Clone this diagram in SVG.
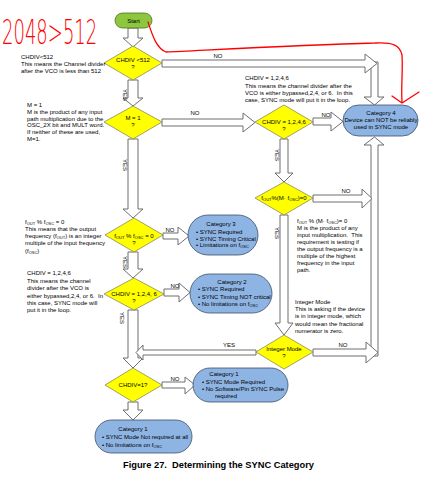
<svg xmlns="http://www.w3.org/2000/svg" width="432" height="480" viewBox="0 0 432 480">
<style>
.blk{fill:#fff;stroke:#6f6f6f;stroke-width:1;stroke-linejoin:miter}
.dia{fill:#ffff00;stroke:#7a7a55;stroke-width:0.7}
.cat{fill:#8eb4e3;stroke:#3f4f66;stroke-width:0.8}
.start{fill:#8dc63f;stroke:#4f6e22;stroke-width:0.8}
text{font-family:"Liberation Sans",Arial,sans-serif;font-size:6px;fill:#000}
.c{text-anchor:middle}
.sub{font-size:4px}
.cap{font-size:9.5px;font-weight:bold}
.red{fill:none;stroke:#ff0000;stroke-width:1.3;stroke-linecap:round;stroke-linejoin:round}
.hand{font-family:"DejaVu Sans",sans-serif;font-size:34px;font-weight:200;fill:#ff0000}
</style>
<rect width="432" height="480" fill="#fff"/>

<g id="connectors">
  <polygon class="blk" points="128,28 138,28 138,38 143,38 133,47 123,38 128,38"/>
  <polygon class="blk" points="371,62 378,62 378,97 384,97 374.5,105 364,97 371,97"/>
  <polygon class="blk" points="162,60 365,60 365,54 377,63.5 365,73 365,67 162,67"/>
  <polygon class="blk" points="128,80 138,80 138,98 143,98 133,106 123,98 128,98"/>
  <polygon class="blk" points="162,119 243,119 243,113 255,122.5 243,132 243,126 162,126"/>
  <polygon class="blk" points="313,118 331,118 331,112 343,121.5 331,131 331,125 313,125"/>
  <polygon class="blk" points="280,139 288,139 288,173 293,173 284,182 275,173 280,173"/>
  <polygon class="blk" points="371,356 378,356 378,145 384,145 374.5,137 364,145 371,145"/>
  <polygon class="blk" points="313,195 362,195 362,189 372,198.5 362,208 362,202 313,202"/>
  <polygon class="blk" points="280,215 288,215 288,323 293,323 284,335 275,323 280,323"/>
  <polygon class="blk" points="313,349 366,349 366,342 378,352.5 366,363 366,356 313,356"/>
  <polygon class="blk" points="128,139 138,139 138,209 143,209 133,218 123,209 128,209"/>
  <polygon class="blk" points="163,233 178,233 178,227 189,236 178,245 178,239 163,239"/>
  <polygon class="blk" points="128,252 138,252 138,269 143,269 133,278 123,269 128,269"/>
  <polygon class="blk" points="164,289 179,289 179,283 190,292.5 179,302 179,296 164,296"/>
  <polygon class="blk" points="128,310 138,310 138,358 143,358 133,368 123,358 128,358"/>
  <polygon class="blk" points="256,350 143,350 143,345 136,352.5 143,360 143,355 256,355"/>
  <polygon class="blk" points="162,382 185,382 185,377 195,385 185,394 185,388 162,388"/>
  <polygon class="blk" points="128,402 138,402 138,410 143,410 133,420 123,410 128,410"/>
  <text class="c" x="218" y="58">NO</text>
  <text class="c" x="195" y="115">NO</text>
  <text class="c" x="326" y="117">NO</text>
  <text class="c" x="346" y="193">NO</text>
  <text class="c" x="343" y="347">NO</text>
  <text class="c" x="229" y="347">YES</text>
  <text class="c" x="170" y="232">NO</text>
  <text class="c" x="175" y="288">NO</text>
  <text class="c" x="175" y="381">NO</text>
  <text class="c" transform="translate(125,95) rotate(90)" dy="2">YES</text>
  <text class="c" transform="translate(125,165) rotate(90)" dy="2">YES</text>
  <text class="c" transform="translate(125,262) rotate(90)" dy="2">YES</text>
  <text class="c" transform="translate(122,318) rotate(90)" dy="2">YES</text>
  <text class="c" transform="translate(277,155) rotate(90)" dy="2">YES</text>
  <text class="c" transform="translate(277,233) rotate(90)" dy="2">YES</text>
</g>

<g id="start">
  <rect class="start" x="115" y="13" width="37" height="15" rx="7.5"/>
  <text class="c" x="133.5" y="22.5">Start</text>
</g>

<g id="d-chdiv512">
  <polygon class="dia" points="104,63 133,46 162,63 133,80"/>
  <text class="c" x="133" y="62">CHDIV &lt;512</text>
  <text class="c" x="133" y="69">?</text>
</g>

<g id="d-m1">
  <polygon class="dia" points="104,122 133,106 162,122 133,139"/>
  <text class="c" x="133" y="120">M = 1</text>
  <text class="c" x="133" y="127">?</text>
</g>

<g id="d-chdiv1246-right">
  <polygon class="dia" points="255,122 284,105 313,122 284,139"/>
  <text class="c" x="284" y="124">CHDIV = 1,2,4,6</text>
  <text class="c" x="284" y="130.5">?</text>
</g>

<g id="d-fout-mfosc">
  <polygon class="dia" points="255,198 284,182 313,198 284,215"/>
  <text class="c" x="284" y="200">f<tspan class="sub" dy="1.2">OUT</tspan><tspan dy="-1.2">%(M· f</tspan><tspan class="sub" dy="1.2">OSC</tspan><tspan dy="-1.2">)=0</tspan></text>
</g>

<g id="d-integer">
  <polygon class="dia" points="256,352 284,335 313,352 284,369"/>
  <text class="c" x="284" y="351">Integer Mode</text>
  <text class="c" x="284" y="358">?</text>
</g>

<g id="d-fout-fosc">
  <polygon class="dia" points="105,235 134,218 163,235 134,252"/>
  <text class="c" x="134" y="238">f<tspan class="sub" dy="1.2">OUT</tspan><tspan dy="-1.2"> % f</tspan><tspan class="sub" dy="1.2">OSC</tspan><tspan dy="-1.2"> = 0</tspan></text>
  <text class="c" x="134" y="245">?</text>
</g>

<g id="d-chdiv1246-left">
  <polygon class="dia" points="104,294 134,278 164,294 134,310"/>
  <text class="c" x="134" y="296">CHDIV = 1,2,4, 6</text>
  <text class="c" x="134" y="303">?</text>
</g>

<g id="d-chdiv1">
  <polygon class="dia" points="105,385 133,368 162,385 133,402"/>
  <text class="c" x="133" y="387">CHDIV=1?</text>
</g>

<g id="cat4">
  <rect class="cat" x="343" y="105" width="75" height="31" rx="15.5"/>
  <text class="c" x="381" y="115">Category 4</text>
  <text class="c" x="381" y="122">Device can NOT be reliably</text>
  <text class="c" x="381" y="129">used in SYNC mode</text>
</g>

<g id="cat3">
  <rect class="cat" x="188" y="215" width="70" height="40" rx="20"/>
  <text class="c" x="221" y="226">Category 3</text>
  <text x="196" y="234">•  SYNC Required</text>
  <text x="196" y="240.5">•  SYNC Timing Critical</text>
  <text x="196" y="247">•  Limitations on f<tspan class="sub" dy="1.2">OSC</tspan></text>
</g>

<g id="cat2">
  <rect class="cat" x="190" y="274" width="82" height="39" rx="19.5"/>
  <text class="c" x="232" y="284">Category 2</text>
  <text x="198" y="291">•  SYNC Required</text>
  <text x="198" y="298.5">•  SYNC Timing NOT critical</text>
  <text x="198" y="306">•  No limitations on f<tspan class="sub" dy="1.2">OSC</tspan></text>
</g>

<g id="cat1-right">
  <rect class="cat" x="193" y="368" width="95" height="34" rx="17"/>
  <text class="c" x="224" y="376">Category 1</text>
  <text x="202" y="383.5">•  SYNC Mode Required</text>
  <text x="202" y="390.5">•  No Software/Pin SYNC Pulse</text>
  <text x="215" y="397.5">required</text>
</g>

<g id="cat1-bottom">
  <rect class="cat" x="95" y="420" width="97" height="33" rx="16.5"/>
  <text class="c" x="133" y="431">Category 1</text>
  <text x="102" y="439">•  SYNC Mode Not required at all</text>
  <text x="102" y="446.5">•  No limitations on f<tspan class="sub" dy="1.2">OSC</tspan></text>
</g>

<g id="notes">
  <text x="21" y="58.5">CHDIV&lt;512</text>
  <text x="21" y="65.5">This means the Channel divider</text>
  <text x="21" y="72.5">after the VCO is less than 512</text>

  <text x="27" y="107">M = 1</text>
  <text x="27" y="114">M is the product of any input</text>
  <text x="27" y="120.7">path multiplication due to the</text>
  <text x="27" y="127.4">OSC_2X bit and MULT word.</text>
  <text x="27" y="134">If neither of these are used,</text>
  <text x="27" y="140.7">M=1.</text>

  <text x="25" y="224">f<tspan class="sub" dy="1.2">OUT</tspan><tspan dy="-1.2"> % f</tspan><tspan class="sub" dy="1.2">OSC</tspan><tspan dy="-1.2"> = 0</tspan></text>
  <text x="25" y="231">This means that the output</text>
  <text x="25" y="238">frequency (f<tspan class="sub" dy="1.2">OUT</tspan><tspan dy="-1.2">) is an integer</tspan></text>
  <text x="25" y="245">multiple of the input frequency</text>
  <text x="25" y="252.5">(f<tspan class="sub" dy="1.2">OSC</tspan><tspan dy="-1.2">)</tspan></text>

  <text x="27" y="275">CHDIV = 1,2,4,6</text>
  <text x="27" y="282.5">This means the channel</text>
  <text x="27" y="290">divider after the VCO is</text>
  <text x="27" y="297.5" xml:space="preserve">either bypassed,2,4, or 6.  In</text>
  <text x="27" y="305">this case, SYNC mode will</text>
  <text x="27" y="312">put it in the loop.</text>

  <text x="245" y="80">CHDIV = 1,2,4,6</text>
  <text x="245" y="87.5">This means the channel divider after the</text>
  <text x="245" y="94.5" xml:space="preserve">VCO is either bypassed,2,4, or 6.  In this</text>
  <text x="245" y="101.5">case, SYNC mode will put it in the loop.</text>

  <text x="297" y="223">f<tspan class="sub" dy="1.2">OUT</tspan><tspan dy="-1.2"> % (M· f</tspan><tspan class="sub" dy="1.2">OSC</tspan><tspan dy="-1.2">)= 0</tspan></text>
  <text x="297" y="229.7">M is the product of any</text>
  <text x="297" y="236.5" xml:space="preserve">input multiplication.  This</text>
  <text x="297" y="243.5">requirement is testing if</text>
  <text x="297" y="250.5">the output frequency is a</text>
  <text x="297" y="257.7">multiple of the highest</text>
  <text x="297" y="264.8">frequency in the input</text>
  <text x="297" y="272">path.</text>

  <text x="295" y="304">Integer Mode</text>
  <text x="295" y="311">This is asking if the device</text>
  <text x="295" y="318.3">is in integer mode, which</text>
  <text x="295" y="325.5">would mean the fractional</text>
  <text x="295" y="332.5">numerator is zero.</text>
</g>

<g id="caption">
  <text class="cap" x="123" y="468" textLength="191" lengthAdjust="spacingAndGlyphs" xml:space="preserve">Figure 27.  Determining the SYNC Category</text>
</g>

<g id="red-annotation">
  <text class="hand" transform="translate(2,44) scale(0.53,1)">2048&gt;512</text>
  <path class="red" d="M148,22 C152,34 156,48 166,52 C210,50 300,45 375,43 C392,42 400,45 402,55 C403,70 401,85 402,102"/>
  <path class="red" d="M392,96 L402,103 L419,92"/>
</g>
</svg>
